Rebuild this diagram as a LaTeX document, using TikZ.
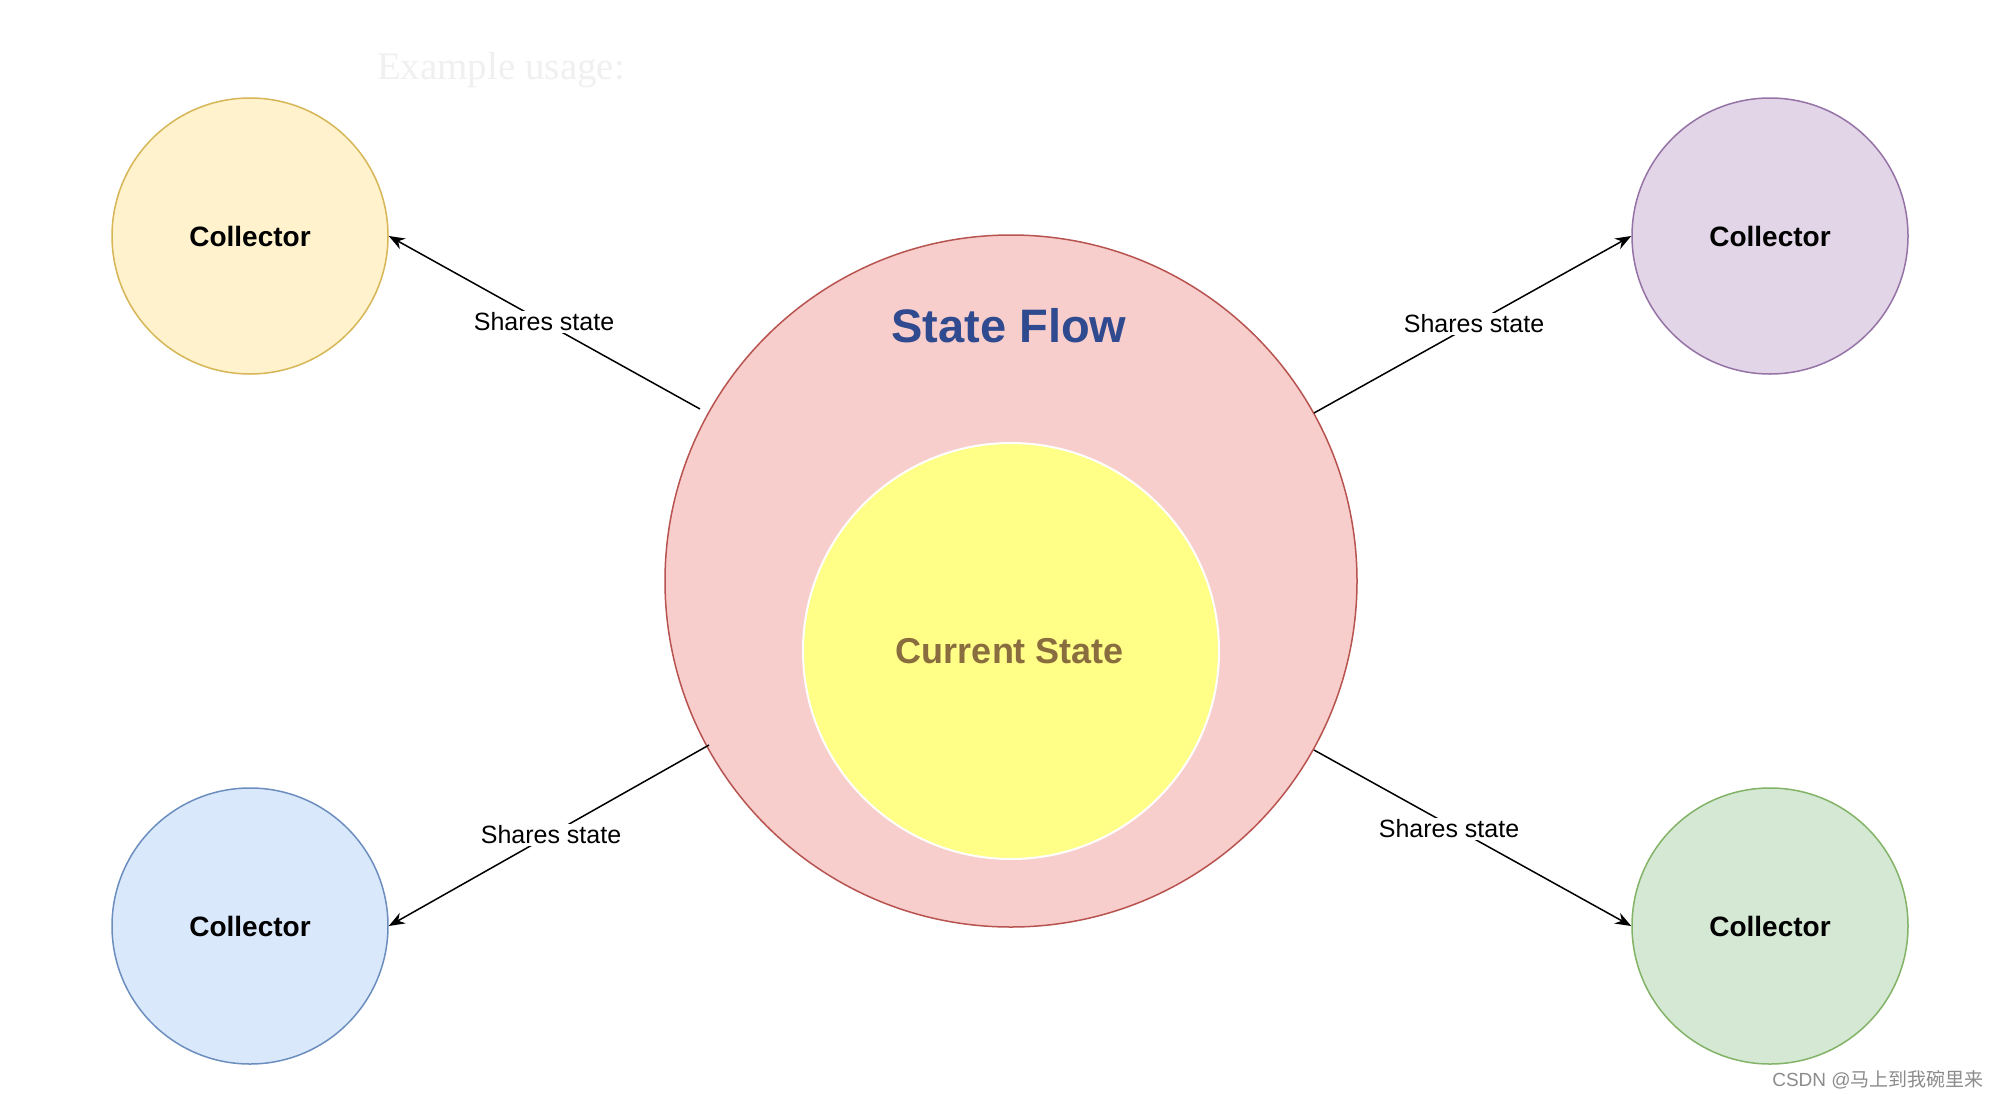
\documentclass[tikz,border=0pt]{standalone}
\usepackage{fontspec}
\setmainfont{Liberation Sans}
\newfontfamily\exfont{Liberation Serif}
\newfontfamily\cjk{Noto Sans CJK SC}
\usetikzlibrary{arrows.meta}
\definecolor{yf}{HTML}{FFF2CC}\definecolor{yd}{HTML}{D6B656}
\definecolor{pf}{HTML}{E1D5E7}\definecolor{pd}{HTML}{9673A6}
\definecolor{bf}{HTML}{DAE8FC}\definecolor{bd}{HTML}{6C8EBF}
\definecolor{gf}{HTML}{D5E8D4}\definecolor{gd}{HTML}{82B366}
\definecolor{rf}{HTML}{F8CECC}\definecolor{rd}{HTML}{B85450}
\definecolor{inf}{HTML}{FFFF88}
\definecolor{sftxt}{HTML}{2F4A8E}\definecolor{cstxt}{HTML}{8A6D3F}
\begin{document}
\begin{tikzpicture}[x=1pt,y=-1pt,
  coll/.style={circle,minimum size=276pt,inner sep=0pt,line width=1.5pt,font=\fontsize{28}{32}\selectfont\bfseries},
  conn/.style={line width=1.5pt,-{Stealth[length=16pt,width=12pt]}},
  lbl/.style={fill=white,inner sep=2pt,font=\fontsize{25}{28}\selectfont}]
\path[fill=white] (0,0) rectangle (2000,1093);
\node[font=\exfont\fontsize{39}{44}\selectfont,text=black!6] (ex) at (501,70) {Example usage:};
\node[coll,fill=yf,draw=yd] (c1) at (250,236) {Collector};
\node[coll,fill=pf,draw=pd] (c2) at (1770,236) {Collector};
\node[coll,fill=bf,draw=bd] (c3) at (250,926) {Collector};
\node[coll,fill=gf,draw=gd] (c4) at (1770,926) {Collector};
\node[circle,minimum size=692pt,inner sep=0pt,fill=rf,draw=rd,line width=1.5pt] (sf) at (1011,581) {};
\node[circle,minimum size=416pt,inner sep=0pt,fill=inf,draw=white,line width=2pt] (cs) at (1011,651) {};
\node[font=\fontsize{47}{52}\selectfont\bfseries,text=sftxt] (sft) at (1009,326) {State Flow};
\node[font=\fontsize{36}{40}\selectfont\bfseries,text=cstxt] (cst) at (1010,651) {Current State};
\coordinate (s1) at (700,409);
\coordinate (s2) at (1314,413);
\coordinate (s3) at (709,745);
\coordinate (s4) at (1314,750);
\draw[conn] (s1) -- (c1.east);
\draw[conn] (s2) -- (c2.west);
\draw[conn] (s3) -- (c3.east);
\draw[conn] (s4) -- (c4.west);
\node[lbl] (l1) at (544,322) {Shares state};
\node[lbl] (l2) at (1474,324) {Shares state};
\node[lbl] (l3) at (551,835) {Shares state};
\node[lbl] (l4) at (1449,829) {Shares state};
\node[font=\fontsize{19}{22}\selectfont,text=black!45] (wm) at (1878,1080) {CSDN @{\cjk 马上到我碗里来}};
\end{tikzpicture}
\end{document}
